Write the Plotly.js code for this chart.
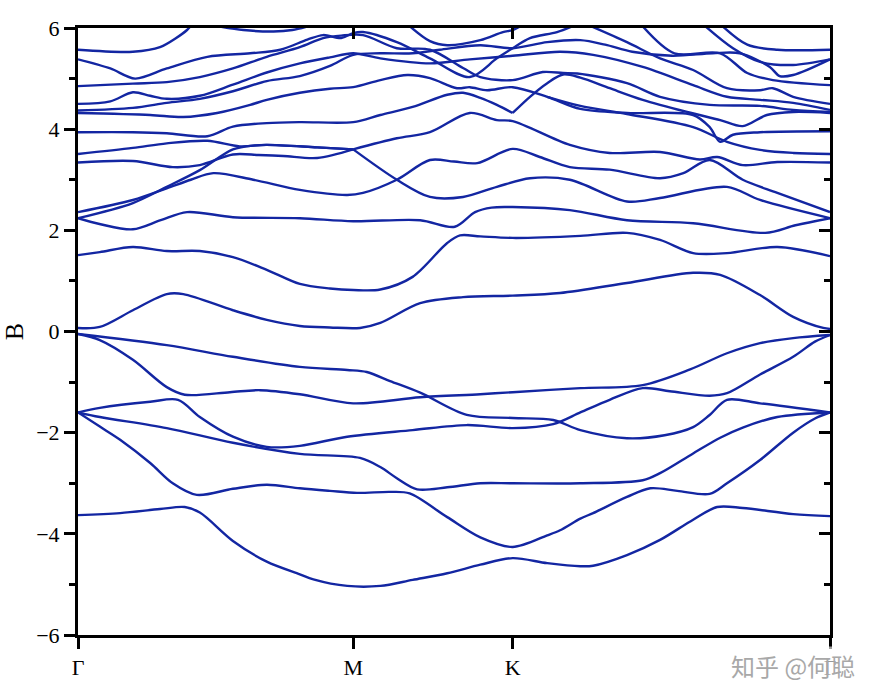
<!DOCTYPE html>
<html>
<head>
<meta charset="utf-8">
<script src="https://cdn.plot.ly/plotly-3.0.1.min.js"></script>
<style>html,body{margin:0;padding:0;background:#fff;}#chart{width:876px;height:698px;}</style>
</head>
<body>
<div id="chart"></div>
<script>
// k: path coordinate in percent of the Γ–M–K–Γ path length
const kTicks = [0, 36.6, 57.8, 100];
const kLabels = ['Γ', 'M', 'K', 'Γ'];
const yTicks = [-6, -4, -2, 0, 2, 4, 6];

// each band: list of [k, E]; null = break at a degenerate point
const band01 = [[0,-3.63],[5.6,-3.59],[10.9,-3.51],[14.2,-3.47],[16.2,-3.58],[20.6,-4.14],[25.1,-4.55],[29.5,-4.8],[31.3,-4.9],[35.8,-5.03],[40.2,-5.03],[44.5,-4.91],[49.1,-4.78],[53.5,-4.61],[57.8,-4.48],[62.4,-4.58],[66.8,-4.64],[68.5,-4.63],[73.0,-4.42],[77.4,-4.12],[81.8,-3.72],[85.0,-3.47],[88.4,-3.49],[95.1,-3.61],[100,-3.65]];
const band02 = [[0,-1.6],[2.9,-1.88],[5.6,-2.14],[9.6,-2.6],[12.6,-3.0],[15.8,-3.23],[20.6,-3.11],[25.1,-3.03],[29.5,-3.1],[33.5,-3.15],[37.1,-3.19],[41.5,-3.17],[44.1,-3.2],[49.1,-3.67],[53.5,-4.07],[57.8,-4.26],[62.4,-4.03],[64.1,-3.93],[66.8,-3.7],[68.5,-3.59],[73.0,-3.27],[76.1,-3.1],[79.7,-3.15],[84.0,-3.21],[86.3,-3.0],[90.7,-2.54],[95.1,-2.0],[98,-1.72],[100,-1.6]];
const band03 = [[0,-1.6],[2.9,-1.69],[11.8,-1.91],[20.6,-2.2],[29.5,-2.42],[37.5,-2.5],[40.2,-2.68],[42.4,-2.9],[45.1,-3.12],[49.1,-3.08],[53.5,-3.0],[57.8,-3.0],[66.8,-3.0],[75.1,-2.94],[77.4,-2.8],[81.8,-2.41],[85.4,-2.1],[88.4,-1.9],[93.0,-1.69],[100,-1.6]];
const band04 = [[0,-1.6],[2.9,-1.51],[9.6,-1.39],[13.3,-1.35],[16.2,-1.69],[20.6,-2.08],[25.1,-2.28],[29.5,-2.26],[35.8,-2.08],[44.5,-1.95],[51.7,-1.85],[57.8,-1.91],[63.2,-1.83],[66.8,-1.6],[70.7,-1.35],[75.1,-1.12],[78.7,-1.18],[84.0,-1.27],[86.3,-1.22],[90.7,-0.85],[95.1,-0.5],[98,-0.2],[100,-0.07]];
const band05 = [[0,-0.05],[2.9,-0.17],[7.3,-0.56],[11.8,-1.1],[14.2,-1.25],[20.2,-1.2],[24.2,-1.16],[29.5,-1.24],[36.6,-1.42],[45.5,-1.3],[53.5,-1.24],[57.8,-1.2],[66.8,-1.12],[75.1,-1.06],[81.4,-0.75],[86.3,-0.43],[90.7,-0.23],[95.1,-0.13],[100,-0.07]];
const band06 = [[0,-0.05],[11.8,-0.27],[20.6,-0.5],[29.5,-0.7],[35.8,-0.76],[38.4,-0.8],[41.5,-0.98],[45.5,-1.21],[51.7,-1.65],[57.8,-1.71],[63.2,-1.75],[66.8,-1.95],[73.0,-2.11],[78,-2.05],[81.8,-1.89],[84.0,-1.65],[86.3,-1.35],[90.7,-1.42],[100,-1.6]];
const band07 = [[0,0.07],[2.9,0.09],[7.3,0.42],[11.8,0.74],[14.0,0.74],[20.6,0.42],[25.1,0.23],[29.5,0.11],[33.5,0.08],[37.5,0.07],[40.2,0.17],[45.5,0.56],[51.2,0.68],[57.8,0.71],[64.1,0.76],[73.0,0.96],[81.8,1.16],[85.4,1.12],[90.7,0.72],[95.1,0.29],[99.1,0.07],[100,0.05]];
const band08 = [[0,1.51],[2.9,1.57],[7.3,1.67],[11.8,1.59],[16.2,1.59],[20.6,1.47],[25.1,1.22],[29.5,0.94],[33.5,0.85],[36.6,0.82],[40.2,0.83],[44.5,1.08],[49.1,1.75],[50.8,1.9],[53.5,1.88],[57.8,1.85],[66.8,1.89],[73.0,1.95],[77.4,1.81],[81.8,1.55],[86.3,1.55],[93.0,1.67],[100,1.49]];
const band09 = [[0,2.24],[3,2.12],[7.3,2.02],[11,2.2],[14.5,2.36],[20.6,2.26],[29.5,2.24],[36.6,2.18],[45.5,2.2],[50.1,2.07],[52.8,2.36],[55,2.45],[57.8,2.46],[65.4,2.4],[73.0,2.2],[81.8,2.14],[91.4,1.95],[95.4,2.1],[100,2.24]];
const band10 = [[0,2.36],[7.3,2.6],[11.8,2.83],[15,3.0],[18.0,3.13],[23.3,3.0],[29.5,2.8],[35.8,2.7],[37.9,2.74],[42.4,3.0],[46.8,3.39],[50,3.36],[53.1,3.33],[57.8,3.61],[61.4,3.45],[65.4,3.25],[70.7,3.2],[77.4,3.03],[80.5,3.13],[84.0,3.39],[88.4,3.0],[93,2.74],[100,2.36]];
const band11 = [[0,2.24],[7.3,2.54],[11.8,2.86],[16.2,3.19],[20.6,3.6],[23.5,3.68],[25.1,3.69],[31.8,3.64],[36.6,3.6],null,[36.6,3.6],[42.4,3.0],[46.8,2.66],[51.2,2.66],[55.7,2.86],[60.1,3.03],[65.4,3.0],[73.0,2.57],[77.4,2.64],[86.3,2.86],[90.7,2.6],[100,2.24]];
const band12 = [[0,3.34],[7.3,3.37],[12.6,3.25],[16.2,3.29],[20.6,3.5],[24,3.49],[27.3,3.47],[31.8,3.43],[36.6,3.6],null,[36.6,3.6],[42.4,3.82],[46.8,3.94],[52.1,4.32],[55.7,4.18],[57.8,4.16],[65.4,3.69],[70.7,3.53],[77.4,3.55],[82.7,3.4],[85.0,3.45],[88.4,3.29],[93.0,3.35],[100,3.34]];
const band13 = [[0,3.51],[7.3,3.63],[11.8,3.72],[17.2,3.77],[21.5,3.66],[25.1,3.69],[31.8,3.64],[36.6,3.6]];
const band14 = [[0,3.94],[7.3,3.94],[11.8,3.92],[17.2,3.86],[20.6,4.05],[25.1,4.12],[29.5,4.14],[36.6,4.14],[40.2,4.28],[44.5,4.44],[49.1,4.68],[51.2,4.72],[53.5,4.62],[55.7,4.48],[57.8,4.32],null,[57.8,4.32],[60.1,4.64],[62.4,4.91],[64.5,5.08],[66.8,5.02],[70.7,4.81],[75.1,4.58],[81.0,4.34],[85.4,4.18],[88.4,4.06],[91.6,4.28],[95.1,4.34],[100,4.32]];
const band15 = [[0,4.32],[9.6,4.28],[14.0,4.24],[18.5,4.32],[22.9,4.48],[25.1,4.58],[29.5,4.72],[33.5,4.8],[36.6,4.83],[40.2,4.97],[43.8,5.07],[46.8,5.01],[50.4,4.81],[52.1,4.83],[54.4,4.77],[57.8,4.83],[62.4,4.64],[66.8,4.4],[73.0,4.32],[81.8,4.28],[84.0,4.04],[85.4,3.75],[87.1,3.89],[90.7,3.94],[100,3.96]];
const band16 = [[62.4,4.64],[66.8,4.46],[73.0,4.3],[81.8,4.04],[86.3,3.75],[90.7,3.59],[95.1,3.53],[100,3.51]];
const band17 = [[0,4.37],[7.3,4.42],[11.8,4.52],[16.2,4.6],[20.6,4.75],[25.1,4.95],[29.5,5.05],[33.5,5.25],[36.6,5.47],[40.2,5.5],[44.5,5.5],[48.1,5.57],[53.5,5.66],[57.8,5.6],[62.4,5.72],[66.8,5.76],[70.1,5.67],[73.7,5.53],[79,5.45],[84.4,5.5],[88,5.5],[92,5.23],[93.3,5.05],[95.1,5.07],[100,5.38]];
const band18 = [[0,4.5],[4.3,4.55],[7.3,4.73],[9.6,4.66],[11.8,4.6],[16.2,4.66],[20.6,4.88],[25.1,5.12],[29.5,5.3],[33.5,5.42],[36.6,5.5],[40.2,5.4],[46.8,5.3],[52.1,5.38],[57.8,5.45],[64.1,5.53],[68.5,5.47],[75.1,5.23],[81.8,4.87],[86.3,4.64],[90.7,4.58],[95.1,4.52],[100,4.38]];
const band19 = [[0,4.85],[7.3,4.9],[11.8,4.93],[16.2,5.03],[20.6,5.2],[25.1,5.43],[29.5,5.62],[32.6,5.8],[35,5.85],[37.9,5.86],[42.4,5.6],[46.8,5.57],[51.2,5.21],[53.5,5.03],[57.8,4.97],[61.8,5.13],[64.5,5.11],[66.4,5.1],[73.0,4.91],[77.4,4.64],[84.0,4.48],[90.7,4.46],[95.1,4.38],[100,4.34]];
const band20 = [[0,5.38],[4.3,5.2],[7.6,5.0],[11.8,5.2],[17.2,5.43],[22.9,5.5],[26.9,5.57],[30.5,5.77],[32.6,5.86],[35.0,5.8],[36.6,5.9],[37.9,5.92],[42.4,5.72],[46.8,5.4],[52.1,5.03],[55.7,5.4],[57.8,5.6],[60.1,5.8],[63.7,5.92],[66,6.05]];
const band21 = [[0,5.57],[7.3,5.53],[10.9,5.62],[14.5,5.96],[15,6.05]];
const band22 = [[44,6.05],[46.8,5.74],[49.1,5.66],[53.5,5.76],[56.5,5.92],[57.8,5.96],[59,6.05]];
const band23 = [[68,6.05],[73.0,5.72],[77.4,5.4],[81.8,5.17],[86.3,4.81],[90.7,4.77],[92.4,4.81],[95.1,4.64],[100,4.5]];
const band24 = [[75,6.05],[79.3,5.5],[85.4,5.5],[89,5.11],[92.4,4.97],[100,4.87]];
const band25 = [[85.6,6.05],[89,5.67],[93,5.57],[100,5.57]];
const band26 = [[83.3,6.05],[87.1,5.6],[90.7,5.33],[95.1,5.27],[100,5.38]];
const band27 = [[18,6.05],[22,5.96],[26,5.93],[28.5,5.96],[31,6.05]];

const bands = [band01,band02,band03,band04,band05,band06,band07,band08,band09,band10,band11,band12,
  band13,band14,band15,band16,band17,band18,band19,band20,band21,band22,band23,band24,band25,band26,band27];

const lineColor = '#1326a2';
const traces = bands.map(b => ({
  type: 'scatter', mode: 'lines',
  x: b.map(p => p ? p[0] : null),
  y: b.map(p => p ? p[1] : null),
  line: {color: lineColor, width: 2.4, shape: 'spline', smoothing: 0.9},
  connectgaps: false, hoverinfo: 'skip', showlegend: false,
  xaxis: 'x', yaxis: 'y', cliponaxis: true
}));
// invisible trace to activate the mirrored axes
traces.push({type:'scatter', mode:'markers', x:[50], y:[0], xaxis:'x2', yaxis:'y2',
  marker:{opacity:0}, hoverinfo:'skip', showlegend:false});

const tickFont = {family: 'Liberation Serif, Times New Roman, serif', size: 22, color: '#000'};
const layout = {
  width: 876, height: 698,
  margin: {l: 78, r: 46, t: 28, b: 63},
  paper_bgcolor: '#fff', plot_bgcolor: '#fff',
  showlegend: false,
  xaxis: {
    range: [0, 100], tickvals: kTicks, ticktext: kLabels,
    showgrid: false, zeroline: false,
    showline: true, linecolor: '#000', linewidth: 3,
    ticks: 'outside', ticklen: 11, tickwidth: 3, tickcolor: '#000',
    tickfont: tickFont
  },
  xaxis2: {
    overlaying: 'x', side: 'top', range: [0, 100], tickvals: [kTicks[1], kTicks[2]],
    showticklabels: false, showgrid: false, zeroline: false,
    showline: true, linecolor: '#000', linewidth: 3,
    ticks: 'inside', ticklen: 11, tickwidth: 3, tickcolor: '#000'
  },
  yaxis: {
    range: [-6, 6], tickvals: yTicks,
    showgrid: false, zeroline: false,
    showline: true, linecolor: '#000', linewidth: 3,
    ticks: 'outside', ticklen: 11, tickwidth: 3, tickcolor: '#000',
    minor: {dtick: 1, tick0: 1, ticks: 'outside', ticklen: 6, tickwidth: 3, tickcolor: '#000', showgrid: false},
    tickfont: tickFont,
    title: {text: 'B', font: {family: 'Liberation Serif, serif', size: 26, color: '#000'}, standoff: 14}
  },
  yaxis2: {
    overlaying: 'y', side: 'right', range: [-6, 6], tickvals: yTicks,
    showticklabels: false, showgrid: false, zeroline: false,
    showline: true, linecolor: '#000', linewidth: 3,
    ticks: 'inside', ticklen: 11, tickwidth: 3, tickcolor: '#000',
    minor: {dtick: 1, tick0: 1, ticks: 'inside', ticklen: 6, tickwidth: 3, tickcolor: '#000', showgrid: false}
  },
  annotations: [{
    text: '知乎 @何聪', xref: 'paper', yref: 'paper', x: 1.036, y: -0.018,
    xanchor: 'right', yanchor: 'top', showarrow: false,
    font: {family: 'Noto Sans CJK SC, sans-serif', size: 24, color: '#a8a8a8'},
    bgcolor: 'rgba(255,255,255,0.6)'
  }]
};
Plotly.newPlot('chart', traces, layout, {staticPlot: true, displayModeBar: false});
</script>
</body>
</html>
